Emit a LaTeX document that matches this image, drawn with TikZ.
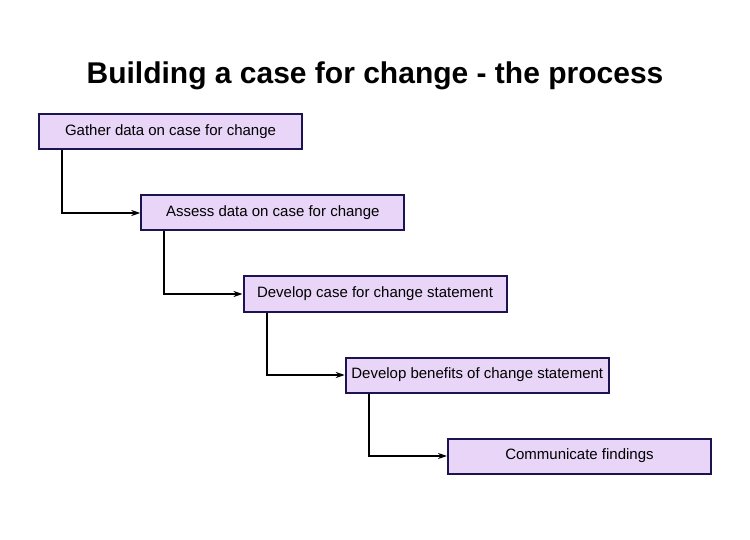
\documentclass[tikz,border=0pt]{standalone}
\usepackage{fontspec}
\setmainfont{Liberation Sans}
\usepackage{tikz}
\usetikzlibrary{arrows.meta, positioning, calc}
\definecolor{caseline}{HTML}{1C1450}
\definecolor{casefill}{HTML}{E8D5F8}

\begin{document}
\begin{tikzpicture}[
    x=1pt, y=-1pt,
    stepbox/.style={
      rectangle, draw=caseline, fill=casefill, line width=2pt,
      font=\fontsize{15}{17}\selectfont, minimum width=263pt, minimum height=35pt,
      inner sep=0pt, align=center
    },
    flow/.style={-{Stealth[length=9pt, width=6pt]}, black, line width=2pt},
  ]
  \useasboundingbox (0,0) rectangle (750,540);
  \node[font=\bfseries\fontsize{30}{34}\selectfont] (title) at (375,76)
    {Building a case for change - the process};

  \node[stepbox] (gather) at (170.5,132) {Gather data on case for change};
  \node[stepbox] (assess) at ($(gather)+(102.25,81)$) {Assess data on case for change};
  \node[stepbox] (develop) at ($(assess)+(102.25,81)$) {Develop case for change statement};
  \node[stepbox] (benefits) at ($(develop)+(102.25,81)$) {Develop benefits of change statement};
  \node[stepbox] (findings) at ($(benefits)+(102.25,81)$) {Communicate findings};

  \foreach \from/\to in {gather/assess, assess/develop, develop/benefits, benefits/findings}
    \draw[flow] ([xshift=24pt]\from.south west) |- (\to.west);
\end{tikzpicture}
\end{document}
